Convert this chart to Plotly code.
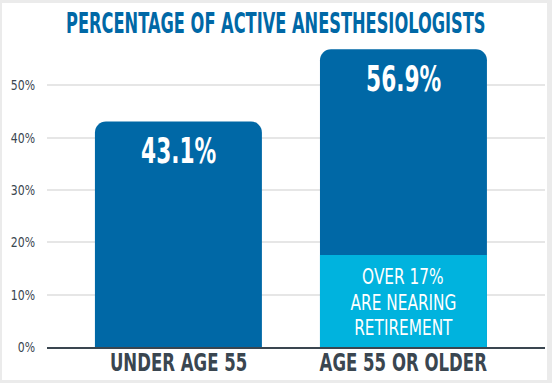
import plotly.graph_objects as go

categories = ["UNDER AGE 55", "AGE 55 OR OLDER"]
values = [43.1, 56.9]
value_labels = ["43.1%", "56.9%"]
retire_value = 17.6
retire_lines = ["OVER 17%", "ARE NEARING", "RETIREMENT"]
title_text = "PERCENTAGE OF ACTIVE ANESTHESIOLOGISTS"
y_ticks = [0, 10, 20, 30, 40, 50]
y_tick_labels = ["0%", "10%", "20%", "30%", "40%", "50%"]

BLUE = "#0068a6"
CYAN = "#00b3de"
DARK = "#3a4650"
FONT = "DejaVu Sans, sans-serif"

W, H = 552, 383
ml, mr, mt, mb = 47, 7, 33, 36
pw, ph = W - ml - mr, H - mt - mb

fig = go.Figure()
fig.add_trace(go.Bar(x=[0, 1], y=values, marker=dict(color=BLUE, cornerradius=11, line=dict(width=0)),
                     width=0.742, hoverinfo="skip"))
fig.add_trace(go.Bar(x=[1], y=[retire_value], marker=dict(color=CYAN, cornerradius=11, line=dict(width=0)),
                     width=0.742, hoverinfo="skip"))

scales = []
# title
fig.add_annotation(xref="paper", yref="paper", x=(276 - ml) / pw, y=(H - mb - 23) / ph, text=title_text,
                   showarrow=False, xanchor="center", yanchor="middle",
                   font=dict(family=FONT, size=28, color=BLUE, weight="bold"))
scales.append(0.58)
for i, (v, t) in enumerate(zip(values, value_labels)):
    fig.add_annotation(x=i, y=v, text=t, showarrow=False, yshift=-30, yanchor="middle",
                       font=dict(family=FONT, size=35, color="white", weight="bold"))
    scales.append(0.62)
for k, line in enumerate(retire_lines):
    fig.add_annotation(x=1, y=0, text=line, showarrow=False, yanchor="middle", yshift=70 - 25.5 * k,
                       font=dict(family=FONT, size=21, color="white"))
    scales.append(0.73)
for i, c in enumerate(categories):
    fig.add_annotation(x=i, xref="x", yref="paper", y=0, yshift=-16, text=c, showarrow=False,
                       yanchor="middle", font=dict(family=FONT, size=24, color=DARK, weight="bold"))
    scales.append(0.69)

fig.add_shape(type="rect", xref="paper", yref="paper", layer="below",
              x0=(2 - ml) / pw, x1=(547 - ml) / pw, y0=(H - mb - 380) / ph, y1=(H - mb - 3) / ph,
              fillcolor="white", line=dict(width=0))

fig.update_layout(
    width=W, height=H, margin=dict(l=ml, r=mr, t=mt, b=mb, autoexpand=False),
    paper_bgcolor="#ebebeb", plot_bgcolor="white",
    barmode="overlay", showlegend=False,
    xaxis=dict(range=[-0.584, 1.629], tickvals=[0, 1], ticktext=categories, automargin=False,
               showticklabels=False,
               showgrid=False, zeroline=False, showline=True, linecolor=DARK, linewidth=1.5, ticks=""),
    yaxis=dict(range=[0, 60], tickvals=y_ticks, ticktext=y_tick_labels, showgrid=True, automargin=False,
               gridcolor="#e6e6e6", gridwidth=1.5, zeroline=False, showline=False,
               tickfont=dict(family=FONT, size=14, color=DARK), ticks="", ticklabelstandoff=11),
)

post = """
document.body.style.margin = '0';
document.body.style.padding = '0';
var gd = document.getElementById('{plot_id}');
var annScales = %s;
function squeeze(t, s, anchor) {
  var b = t.getBBox();
  var cx = anchor === 'end' ? b.x + b.width : b.x + b.width / 2;
  var tr = t.getAttribute('transform') || '';
  t.setAttribute('transform', tr + ' translate(' + cx + ',0) scale(' + s + ',1) translate(' + (-cx) + ',0)');
}
gd.querySelectorAll('g.annotation').forEach(function(g) {
  var i = parseInt(g.getAttribute('data-index'));
  var t = g.querySelector('text.annotation-text');
  if (t && annScales[i]) squeeze(t, annScales[i], 'middle');
});
gd.querySelectorAll('g.ytick text').forEach(function(t) { squeeze(t, 0.78, 'end'); });
""" % (str(scales))

fig.write_html("out.html", post_script=post, config={"displayModeBar": False})
